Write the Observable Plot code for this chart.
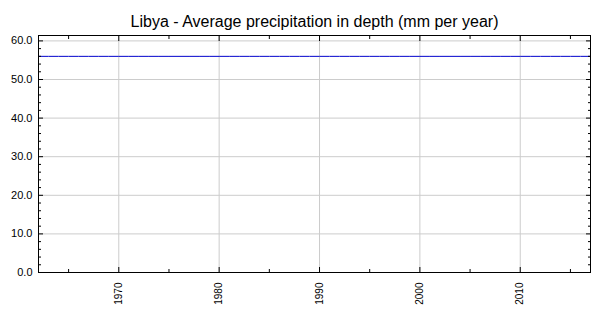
<!DOCTYPE html>
<html>
<head>
<meta charset="utf-8">
<script src="https://cdn.jsdelivr.net/npm/d3@7"></script>
<script src="https://cdn.jsdelivr.net/npm/@observablehq/plot@0.6"></script>
<style>
  html, body { margin: 0; padding: 0; background: #fff; }
  #chart svg { display: block; }
</style>
</head>
<body>
<div id="chart"></div>
<script>
const title = "Libya - Average precipitation in depth (mm per year)";
const years = d3.range(1962, 2018);
const values = years.map(() => 56);
const xMajorTicks = [1970, 1980, 1990, 2000, 2010];
const xMinorTicks = [1965, 1975, 1985, 1995, 2005, 2015];
const yMajorTicks = [0, 10, 20, 30, 40, 50, 60];
const yMinorTicks = d3.range(0, 62, 2).filter(v => v % 10 !== 0);

const data = years.map((y, i) => ({year: y, value: values[i]}));
const font = "Arial, 'Liberation Sans', sans-serif";

const chart = Plot.plot({
  width: 600,
  height: 315,
  marginTop: 35,
  marginBottom: 43,
  marginLeft: 38,
  marginRight: 10,
  style: {fontFamily: font, background: "#fff", color: "#000"},
  x: {domain: [1962, 2017]},
  y: {domain: [0, 61.4]},
  marks: [
    Plot.gridX(xMajorTicks, {stroke: "#cccccc", strokeOpacity: 1}),
    Plot.gridY(yMajorTicks, {stroke: "#cccccc", strokeOpacity: 1}),
    Plot.lineY(data, {x: "year", y: "value", stroke: "#0000cc", strokeWidth: 1}),
    // x labels
    Plot.axisX(xMajorTicks, {anchor: "bottom", tickSize: 0, tickPadding: 10, tickRotate: -90, tickFormat: d => String(d), label: null, fontSize: 10, fill: "#000"}),
    // x ticks bottom/top
    Plot.axisX(xMajorTicks, {anchor: "bottom", tickSize: -5, tickFormat: () => "", label: null, stroke: "#000"}),
    Plot.axisX(xMinorTicks, {anchor: "bottom", tickSize: -3, tickFormat: () => "", label: null, stroke: "#000"}),
    Plot.axisX(xMajorTicks, {anchor: "top", tickSize: -5, tickFormat: () => "", label: null, stroke: "#000"}),
    Plot.axisX(xMinorTicks, {anchor: "top", tickSize: -3, tickFormat: () => "", label: null, stroke: "#000"}),
    // y labels
    Plot.axisY(yMajorTicks, {anchor: "left", tickSize: 0, tickPadding: 6, tickFormat: d => d.toFixed(1), label: null, fontSize: 11, fill: "#000"}),
    Plot.axisY(yMajorTicks, {anchor: "left", tickSize: -5, tickFormat: () => "", label: null, stroke: "#000"}),
    Plot.axisY(yMinorTicks, {anchor: "left", tickSize: -3, tickFormat: () => "", label: null, stroke: "#000"}),
    Plot.axisY(yMajorTicks, {anchor: "right", tickSize: -5, tickFormat: () => "", label: null, stroke: "#000"}),
    Plot.axisY(yMinorTicks, {anchor: "right", tickSize: -3, tickFormat: () => "", label: null, stroke: "#000"}),
    Plot.frame({stroke: "#000", strokeWidth: 1}),
    Plot.text([title], {frameAnchor: "top", lineAnchor: "bottom", dy: -9, fontSize: 16, fill: "#000", fontFamily: font})
  ]
});
document.getElementById("chart").appendChild(chart);
</script>
</body>
</html>
